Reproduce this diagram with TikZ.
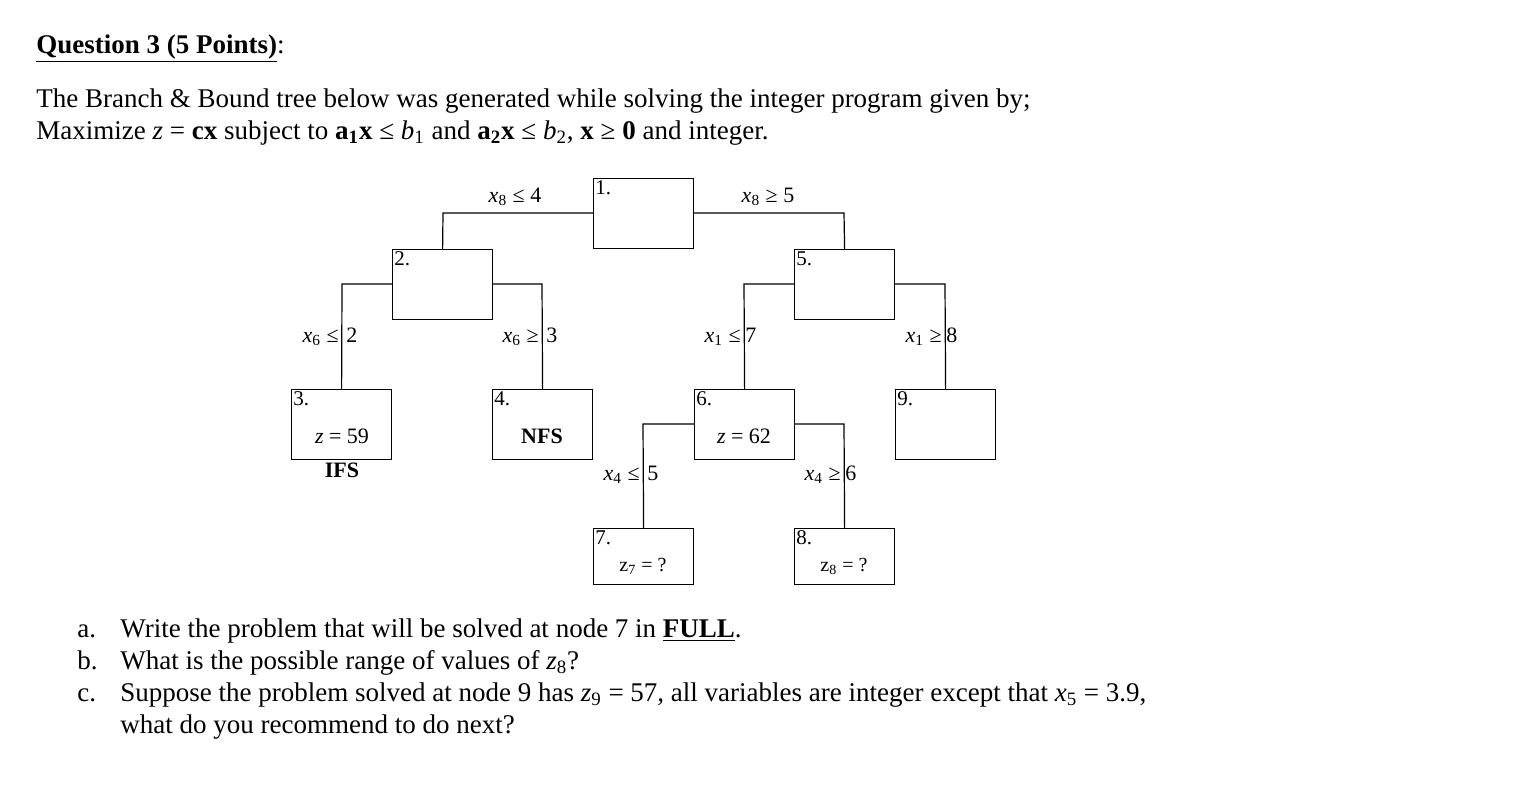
\documentclass[tikz,border=0pt]{standalone}
\usepackage{fontspec}
\setmainfont{Liberation Serif}
\newcommand{\vi}[2]{\textit{#1}\textsubscript{#2}}
\begin{document}
\begin{tikzpicture}[x=0.5pt,y=-0.5pt,
  bx/.style={draw,line width=0.6pt,minimum width=50pt,minimum height=35pt,anchor=north west,inner sep=0pt},
  txt/.style={anchor=base west,inner sep=0pt,font=\fontsize{13.5}{16}\selectfont},
  lab/.style={inner sep=0pt,font=\fontsize{11}{13}\selectfont,fill=white},
  num/.style={anchor=north west,inner sep=1pt,font=\fontsize{10.5}{12}\selectfont},
  con/.style={line width=0.6pt}]
\useasboundingbox (0,0) rectangle (1519,794);
\node[txt] (t0) at (36,53) {\textbf{\underline{Question 3 (5 Points)}}:};
\node[txt] (t1) at (36,107) {The Branch \& Bound tree below was generated while solving the integer program given by;};
\node[txt] (t2) at (36,139) {Maximize \textit{z} = \textbf{cx} subject to \textbf{a\textsubscript{1}x} ≤ \vi{b}{1} and \textbf{a\textsubscript{2}x} ≤ \vi{b}{2}, \textbf{x} ≥ \textbf{0} and integer.};
% boxes
\node[bx] (n1) at (593,178) {};
\node[bx] (n2) at (392,249) {};
\node[bx] (n5) at (794,249) {};
\node[bx] (n3) at (291,389) {};
\node[bx] (n4) at (492,389) {};
\node[bx] (n6) at (694,389) {};
\node[bx] (n9) at (895,389) {};
\node[bx,minimum height=28pt] (n7) at (593,528) {};
\node[bx,minimum height=28pt] (n8) at (794,528) {};
\foreach \n/\l in {n1/1.,n2/2.,n5/5.,n3/3.,n4/4.,n6/6.,n9/9.,n7/7.,n8/8.}
  \node[num] at (\n.north west) {\l};
% connectors
\coordinate (c1l) at (443,213); \coordinate (c1r) at (844,213);
\draw[con] (n1.west |- c1l) -- (c1l) -- (n2.north);
\draw[con] (n1.east |- c1r) -- (c1r) -- (n5.north);
\coordinate (c2l) at (342,284); \coordinate (c2r) at (542,284);
\draw[con] (n2.west |- c2l) -- (c2l) -- (n3.north);
\draw[con] (n2.east |- c2r) -- (c2r) -- (n4.north);
\coordinate (c5l) at (744,284); \coordinate (c5r) at (945,284);
\draw[con] (n5.west |- c5l) -- (c5l) -- (n6.north);
\draw[con] (n5.east |- c5r) -- (c5r) -- (n9.north);
\coordinate (c6l) at (643,424); \coordinate (c6r) at (844,424);
\draw[con] (n6.west |- c6l) -- (c6l) -- (n7.north);
\draw[con] (n6.east |- c6r) -- (c6r) -- (n8.north);
% labels
\node[lab,fill=none] (l1) at (515,197) {\vi{x}{8} ≤ 4};
\node[lab,fill=none] (l2) at (768,197) {\vi{x}{8} ≥ 5};
\node[inner sep=0pt,font=\fontsize{11}{13}\selectfont,anchor=base east] (l3) at (339,342) {\vi{x}{6} ≤};
\node[inner sep=0pt,font=\fontsize{11}{13}\selectfont,anchor=base west] (l3b) at (346,342) {2};
\node[inner sep=0pt,font=\fontsize{11}{13}\selectfont,anchor=base east] (l4) at (539,342) {\vi{x}{6} ≥};
\node[inner sep=0pt,font=\fontsize{11}{13}\selectfont,anchor=base west] (l4b) at (546,342) {3};
\node[inner sep=0pt,font=\fontsize{11}{13}\selectfont,anchor=base east] (l5) at (741,342) {\vi{x}{1} ≤};
\node[inner sep=0pt,font=\fontsize{11}{13}\selectfont,anchor=base west] (l5b) at (745,342) {7};
\node[inner sep=0pt,font=\fontsize{11}{13}\selectfont,anchor=base east] (l6) at (942,342) {\vi{x}{1} ≥};
\node[inner sep=0pt,font=\fontsize{11}{13}\selectfont,anchor=base west] (l6b) at (946,342) {8};
\node[inner sep=0pt,font=\fontsize{11}{13}\selectfont,anchor=base east] (l7) at (640,480) {\vi{x}{4} ≤};
\node[inner sep=0pt,font=\fontsize{11}{13}\selectfont,anchor=base west] (l7b) at (647,480) {5};
\node[inner sep=0pt,font=\fontsize{11}{13}\selectfont,anchor=base east] (l8) at (841,480) {\vi{x}{4} ≥};
\node[inner sep=0pt,font=\fontsize{11}{13}\selectfont,anchor=base west] (l8b) at (845,480) {6};
% box contents
\node[inner sep=0pt,font=\fontsize{11}{13}\selectfont] (z3) at (342,436) {\textit{z} = 59};
\node[inner sep=0pt,font=\fontsize{11}{13}\selectfont\bfseries] (ifs) at (342,470) {IFS};
\node[inner sep=0pt,font=\fontsize{11}{13}\selectfont\bfseries] (nfs) at (542,436) {NFS};
\node[inner sep=0pt,font=\fontsize{11}{13}\selectfont] (z6) at (744,436) {\textit{z} = 62};
\node[inner sep=0pt,font=\fontsize{10}{12}\selectfont] (z7) at (643,566) {z\textsubscript{7} = ?};
\node[inner sep=0pt,font=\fontsize{10}{12}\selectfont] (z8) at (844,566) {z\textsubscript{8} = ?};
% questions
\node[txt] (qa) at (77,637) {a.};
\node[txt] (qat) at (120,637) {Write the problem that will be solved at node 7 in \textbf{\underline{FULL}}.};
\node[txt] (qb) at (77,669) {b.};
\node[txt] (qbt) at (120,669) {What is the possible range of values of \textit{z}\textsubscript{8}?};
\node[txt] (qc) at (77,701) {c.};
\node[txt] (qct) at (120,701) {Suppose the problem solved at node 9 has \textit{z}\textsubscript{9} = 57, all variables are integer except that \vi{x}{5} = 3.9,};
\node[txt] (qct2) at (120,733) {what do you recommend to do next?};
\end{tikzpicture}
\end{document}
